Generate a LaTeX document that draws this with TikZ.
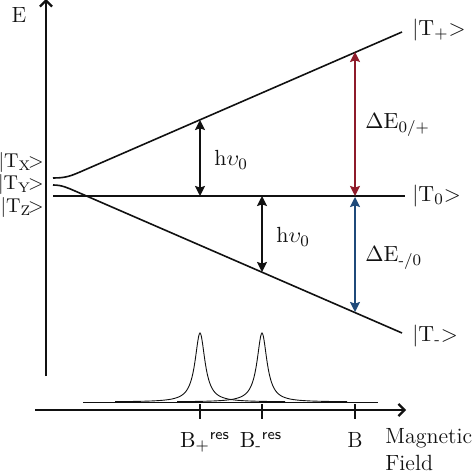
\documentclass[tikz,border=0pt]{standalone}
\usepackage{amsmath}
\usepackage{tikz}
\usetikzlibrary{arrows.meta}
\definecolor{ink}{HTML}{111111}
\definecolor{red}{HTML}{8E1B2A}
\definecolor{blue}{HTML}{1F4A7A}
\newcommand{\lvl}[1]{$\vert\mathrm{T}_{#1}{>}$}
\newcommand{\bres}[1]{$\mathrm{B}_{#1}{}^{\textsf{res}}$}

\begin{document}
\begin{tikzpicture}[x=0.5pt, y=-0.5pt,
  every node/.style={inner sep=0pt, text=ink, font=\fontsize{11}{15}\selectfont},
  axis/.style={line width=1.1pt, draw=ink},
  level/.style={line width=0.8pt, draw=ink},
  gap/.style={line width=0.8pt, {Stealth[length=5pt,width=5pt,inset=0.8pt]}-{Stealth[length=5pt,width=5pt,inset=0.8pt]}},
  zero/.style={anchor=east, font=\fontsize{10}{12}\selectfont}]
\useasboundingbox (0,0) rectangle (474,474);
% 1. axes: energy up, magnetic field to the right
\coordinate (eo) at (46,376); \coordinate (etop) at (46,-1);
\coordinate (bo) at (35,410); \coordinate (bend) at (406,410);
\draw[axis, -{Straight Barb[length=3pt,width=6pt]}] (eo) -- (etop);
\draw[axis, -{Straight Barb[length=3pt,width=6pt]}] (bo) -- (bend);
\node (elab) at (19,15) {E};
% 2. the three triplet levels versus field
\coordinate (p0) at (53,178); \coordinate (p1) at (80,172); \coordinate (pend) at (402,32);
\coordinate (z0) at (53,196); \coordinate (zend) at (405,196);
\coordinate (m0) at (53,185); \coordinate (m1) at (75,191); \coordinate (mend) at (402,333);
\draw[level] (p0) .. controls (65,178) and (70,176.3) .. (p1) -- (pend);
\draw[level] (z0) -- (zend);
\draw[level] (m0) .. controls (62,185) and (68,188) .. (m1) -- (mend);
% zero-field states on the left, high-field states on the right
\node[zero] (tx) at (44,163) {$\vert\mathrm{T}_{\mathrm{X}}\!{>}$};
\node[zero] (ty) at (44,185) {$\vert\mathrm{T}_{\mathrm{Y}}\!{>}$};
\node[zero] (tz) at (44,208) {$\vert\mathrm{T}_{\mathrm{Z}}\!{>}$};
\node[anchor=west] (tp) at (412,30) {\lvl{+}};
\node[anchor=west] (tn) at (412,196) {\lvl{0}};
\node[anchor=west] (tm) at (412,336) {\lvl{\text{-}}};
% 3. microwave quantum at the two resonances
\coordinate (hua) at (200,120); \coordinate (hub) at (200,196);
\coordinate (hla) at (262,196); \coordinate (hlb) at (262,272);
\draw[gap, draw=ink] (hua) -- (hub);
\draw[gap, draw=ink] (hla) -- (hlb);
\node[anchor=west] (hup) at (214,160) {$\mathrm{h}\upsilon_0$};
\node[anchor=west] (hlo) at (276,237) {$\mathrm{h}\upsilon_0$};
% 4. level splittings at field B
\coordinate (ra) at (355,52); \coordinate (rb) at (355,196);
\coordinate (ba) at (355,197); \coordinate (bb) at (355,312);
\draw[gap, color=red] (ra) -- (rb);
\draw[gap, color=blue] (ba) -- (bb);
\node[anchor=west] (dep) at (365,125) {$\Delta\mathrm{E}_{0/+}$};
\node[anchor=west] (dem) at (365,258) {$\Delta\mathrm{E}_{\text{-}/0}$};
% 5. EPR spectrum: two Lorentzian lines on a flat baseline
\coordinate (sa) at (83,402); \coordinate (sb) at (378,402);
\draw[line width=0.4pt, draw=ink] (sa) -- (sb);
\foreach \pk in {200,262}
  \draw[line width=0.45pt, draw=ink] plot[domain=-85:85, samples=141, smooth]
    ({\pk+\x},{402-69*36/(\x*\x+36)});
% ticks and their labels
\foreach \tx/\nm in {200/kp,262/km,355/kb} {
  \coordinate (\nm a) at (\tx,404); \coordinate (\nm b) at (\tx,419);
  \draw[line width=0.8pt, draw=ink] (\nm a) -- (\nm b);
}
\node[anchor=base] (lbp) at (205,447) {\bres{+}};
\node[anchor=base] (lbm) at (261,447) {\bres{\text{-}}};
\node[anchor=base] (lb) at (355,447) {B};
\node[anchor=north west, align=left, font=\fontsize{11}{13.5}\selectfont] (lfield) at (385,428) {Magnetic\\Field};
\end{tikzpicture}
\end{document}
